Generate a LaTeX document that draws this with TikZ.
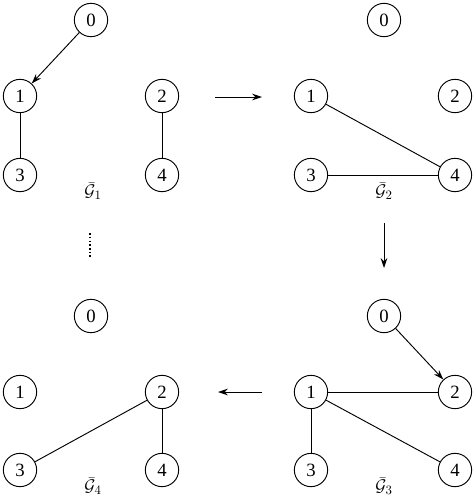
\documentclass[tikz,border=0pt]{standalone}
\usepackage{fontspec}
\setmainfont{Liberation Serif}
\usepackage{amsmath}
\usepackage{tikz}
\usetikzlibrary{positioning}
\usetikzlibrary{arrows.meta}

\tikzset{
	vertex/.style={draw, circle, thick, minimum size=1.0cm, inner sep=0pt, font=\fontsize{16}{19}\selectfont},
	glabel/.style={inner sep=0pt, font=\fontsize{15}{18}\selectfont},
	edge/.style={thick},
	flow/.style={thick, -{Stealth[length=3mm, width=2mm]}}
}

\begin{document}
\begin{tikzpicture}[x=0.03cm, y=-0.03cm]
	\useasboundingbox (0,0) rectangle (474,495);
	
	% --- graph 1 (top left)
	
	\node[vertex] (A0) at (91,20) {0};
	\node[vertex] (A1) at (20,96) {1};
	\node[vertex] (A2) at (162,96) {2};
	\node[vertex] (A3) at (20,175) {3};
	\node[vertex] (A4) at (162,175) {4};
	\node[glabel] (A-label) at (93,191) {$\bar{\mathcal{G}}_1$};
	
	\draw[flow] (A0) -- (A1);
	\draw[edge] (A1) -- (A3);
	\draw[edge] (A2) -- (A4);
	
	% --- graph 2 (top right)
	
	\node[vertex] (B0) at (384,20) {0};
	\node[vertex] (B1) at (311,96) {1};
	\node[vertex] (B2) at (455,96) {2};
	\node[vertex] (B3) at (311,175) {3};
	\node[vertex] (B4) at (455,175) {4};
	\node[glabel] (B-label) at (384,191) {$\bar{\mathcal{G}}_2$};
	
	\draw[edge] (B1) -- (B4);
	\draw[edge] (B3) -- (B4);
	
	% --- graph 3 (bottom right)
	
	\node[vertex] (C0) at (384,316) {0};
	\node[vertex] (C1) at (311,392) {1};
	\node[vertex] (C2) at (455,392) {2};
	\node[vertex] (C3) at (311,470) {3};
	\node[vertex] (C4) at (455,470) {4};
	\node[glabel] (C-label) at (384,486) {$\bar{\mathcal{G}}_3$};
	
	\draw[flow] (C0) -- (C2);
	\draw[edge] (C1) -- (C2);
	\draw[edge] (C1) -- (C4);
	\draw[edge] (C1) -- (C3);
	
	% --- graph 4 (bottom left)
	
	\node[vertex] (D0) at (91,316) {0};
	\node[vertex] (D1) at (20,392) {1};
	\node[vertex] (D2) at (162,392) {2};
	\node[vertex] (D3) at (20,470) {3};
	\node[vertex] (D4) at (162,470) {4};
	\node[glabel] (D-label) at (93,486) {$\bar{\mathcal{G}}_4$};
	
	\draw[edge] (D3) -- (D2);
	\draw[edge] (D2) -- (D4);
	
	% --- steps between the graphs
	
	\coordinate (step12-start) at (215,97);
	\coordinate (step12-end) at (262,97);
	\coordinate (step23-start) at (384,223);
	\coordinate (step23-end) at (384,268);
	\coordinate (step34-start) at (262,392);
	\coordinate (step34-end) at (218,392);
	\coordinate (dots-start) at (90,233);
	\coordinate (dots-end) at (90,258);
	
	\draw[flow] (step12-start) -- (step12-end);
	\draw[flow] (step23-start) -- (step23-end);
	\draw[flow] (step34-start) -- (step34-end);
	\draw[line width=1.6pt, dash pattern=on 1.4pt off 1.8pt] (dots-start) -- (dots-end);
\end{tikzpicture}
\end{document}
